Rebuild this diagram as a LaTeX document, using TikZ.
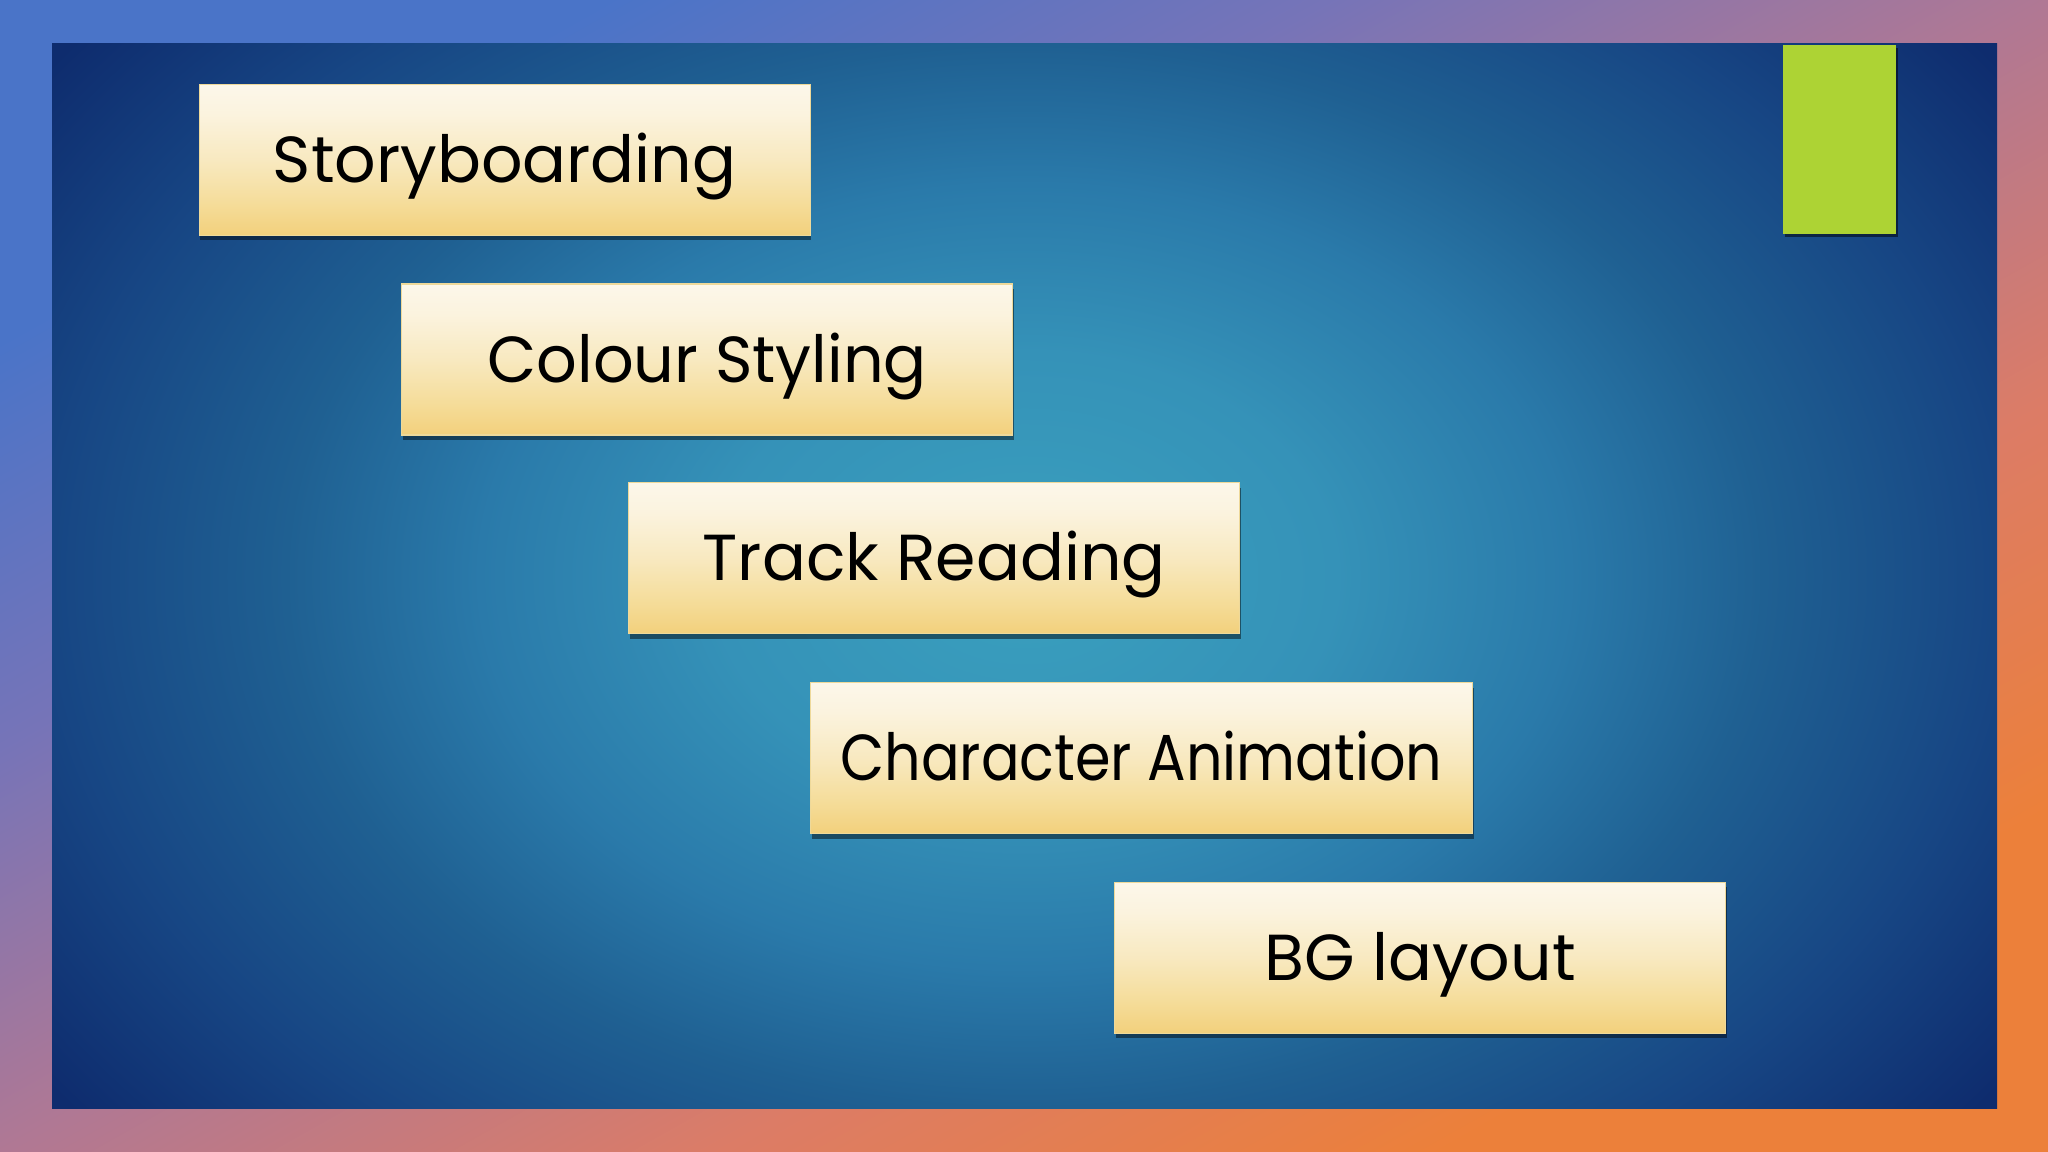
\documentclass[tikz,border=0pt]{standalone}
\usepackage{fontspec}
\newfontfamily\boxfont{Poppins}
\usetikzlibrary{shadows}
\definecolor{bA}{HTML}{4A74C8}
\definecolor{bB}{HTML}{7674B8}
\definecolor{bC}{HTML}{B07894}
\definecolor{bD}{HTML}{DC7C66}
\definecolor{bE}{HTML}{EC803A}
\definecolor{sA}{HTML}{3AA0BE}
\definecolor{sB}{HTML}{3592B8}
\definecolor{sC}{HTML}{2A7AAA}
\definecolor{sD}{HTML}{1F6092}
\definecolor{sE}{HTML}{174684}
\definecolor{sF}{HTML}{0E2C6E}
\definecolor{sG}{HTML}{0B2866}
\definecolor{yA}{HTML}{F2D07C}
\definecolor{yB}{HTML}{F5DC98}
\definecolor{yC}{HTML}{F8E9C0}
\definecolor{yD}{HTML}{FBF3DE}
\definecolor{yE}{HTML}{FCF7EA}
\definecolor{tabgreen}{HTML}{ADD334}
\definecolor{boxedge}{HTML}{EED99A}
\pgfdeclarehorizontalshading{bordershade}{100bp}{color(0bp)=(bA); color(25bp)=(bA); color(37.5bp)=(bB); color(50bp)=(bC); color(62.5bp)=(bD); color(75bp)=(bE); color(100bp)=(bE)}
\pgfdeclareradialshading{slideshade}{\pgfpoint{0bp}{0bp}}{color(0bp)=(sA); color(8bp)=(sB); color(14bp)=(sC); color(19bp)=(sD); color(25bp)=(sE); color(31bp)=(sF); color(50bp)=(sG)}
\pgfdeclareverticalshading{boxshade}{100bp}{color(0bp)=(yA); color(25bp)=(yA); color(35bp)=(yB); color(50bp)=(yC); color(65bp)=(yD); color(75bp)=(yE); color(100bp)=(yE)}
\tikzset{
  stagebox/.style={shading=boxshade, draw=boxedge, line width=0.4pt,
    minimum width=6.11cm, minimum height=1.51cm, anchor=north west,
    inner sep=0pt, text height=0.455cm, text depth=0pt, text=black,
    font=\boxfont\fontsize{18.5pt}{22pt}\selectfont,
    drop shadow={shadow xshift=0.01cm, shadow yshift=-0.05cm, opacity=0.45, fill=black}},
  tabbox/.style={fill=tabgreen, draw=none, minimum width=1.13cm, minimum height=1.89cm,
    anchor=north west, inner sep=0pt,
    drop shadow={shadow xshift=0.02cm, shadow yshift=-0.03cm, opacity=0.5, fill=black}}
}
\begin{document}
\begin{tikzpicture}
\useasboundingbox (0,0) rectangle (20.48,-11.52);
% outer border gradient
\begin{scope}[transform canvas={xscale=1.777778}]
  \shade[shading=bordershade, shading angle=-45] (0,0) rectangle (11.52,-11.52);
\end{scope}
% slide background
\begin{scope}
  \clip (0.52,-0.44) rectangle (19.97,-11.08);
  \shade[shading=slideshade] (0.52,1.24) rectangle (19.97,-12.76);
\end{scope}
% green tab
\node[tabbox] (tab) at (17.82,-0.44) {};
% stage boxes
\node[stagebox] (story) at (1.985,-0.836) {Storyboarding};
\node[stagebox] (colour) at (4.01,-2.834) {\scalebox{0.98}[1]{Colour Styling}};
\node[stagebox] (track) at (6.28,-4.82) {Track Reading};
\node[stagebox, minimum width=6.62cm] (anim) at (8.098,-6.818) {\scalebox{0.88}[1]{Character Animation}};
\node[stagebox] (bg) at (11.14,-8.816) {BG layout};
\end{tikzpicture}
\end{document}
